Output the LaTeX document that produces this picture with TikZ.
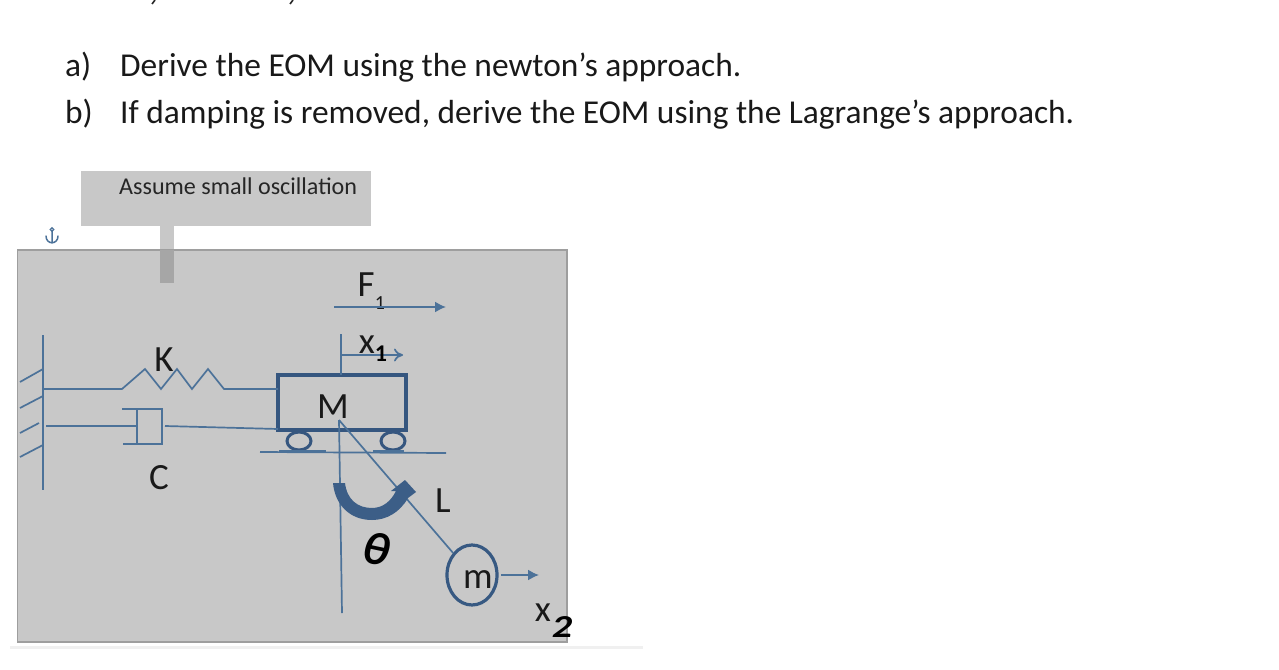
\documentclass[tikz,border=0pt]{standalone}
\usepackage{fontspec}
\setmainfont{Carlito}
\usepackage{tikz}
\usetikzlibrary{shapes,arrows.meta}
\usetikzlibrary{positioning}
\definecolor{linkblue}{HTML}{4C7299}
\definecolor{massblue}{HTML}{35567F}
\definecolor{panelgrey}{HTML}{C8C8C8}
\definecolor{edgegrey}{HTML}{9E9E9E}
\definecolor{stemgrey}{HTML}{A6A6A6}
\tikzstyle{link} = [draw=linkblue, line width=1.7pt]
\tikzstyle{force} = [link, -{Latex[length=11pt,width=11pt]}]
\tikzstyle{openarrow} = [link, -{To[length=9pt,width=13pt]}]
\tikzstyle{question} = [anchor=base west, font=\fontsize{33.4}{33.4}\selectfont, inner sep=0pt, text=black!90]
\tikzstyle{symbol} = [font=\fontsize{37}{37}\selectfont, inner sep=0pt, text=black!90]
\tikzstyle{wheel} = [ellipse, draw=massblue, line width=3pt, minimum width=24pt, minimum height=18pt, inner sep=0pt]
\tikzstyle{pad} = [draw=linkblue, line width=2.6pt]

\begin{document}
\begin{tikzpicture}[x=1pt,y=-1pt]
\useasboundingbox (0,0) rectangle (1279,669);

% cut off line above
\draw [black!85, line width=1.6pt] (155,0) -- (152,4);
\draw [black!85, line width=1.6pt] (293,0) -- (290,4);

\node (parta) [question] at (65,76) {a)};
\node (textA) [question] at (120,76) {Derive the EOM using the newton’s approach.};
\node (partb) [question] at (65,123) {b)};
\node (textB) [question] at (120,123) {If damping is removed, derive the EOM using the Lagrange’s approach.};

% panels
\fill [black!6] (10,646) rectangle (643,649);
\fill [panelgrey] (81,171) rectangle (371,226);
\fill [panelgrey] (160,226) rectangle (174,250);
\draw [fill=panelgrey, draw=edgegrey, line width=1.8pt] (17.5,250) rectangle (567,642);
\fill [stemgrey] (160,250) rectangle (174,283);
\node (note) [anchor=base west, font=\fontsize{24.1}{24.1}\selectfont, inner sep=0pt, text=black!85] at (119,194) {Assume small oscillation};

% anchor mark
\draw [linkblue, line width=1.5pt, line cap=round] (52,231) -- (52,243) (46,236) .. controls (46,245) and (58,245) .. (58,236);
\draw [linkblue, line width=1.2pt] (52,229.5) circle (1.7pt);

% wall
\coordinate (walltop) at (43,335);
\coordinate (wallend) at (43,490);
\draw [link] (walltop) -- (wallend);
\draw [link] (20,382) -- (43,369);
\draw [link] (20,408) -- (43,396);
\draw [link] (20,433) -- (39,423);
\draw [link] (20,457) -- (43,445);

% cart
\node (mass) [rectangle, draw=massblue, line width=3.4pt, minimum width=128pt, minimum height=55pt, inner sep=0pt] at (342,402.5) {};
\node (labelM) [symbol] at (333,407) {M};
\node (wheel1) [wheel] at (299,441) {};
\node (wheel2) [wheel] at (393,441) {};
\coordinate (floorL) at (260,452);
\coordinate (floorR) at (446,453);
\draw [link] (floorL) -- (floorR);
\draw [pad] (279,451) -- (326,451);
\draw [pad] (373,451) -- (404,451);

% spring
\coordinate (springA) at (43,389);
\coordinate (springB) at (278,389);
\draw [link] (springA) -- (122,389) -- (145,369) -- (161,389) -- (177,369) -- (192,389) -- (208,369) -- (224,389) -- (springB);
\node (labelK) [symbol] at (164,360) {K};

% damper
\coordinate (rodA) at (46,426);
\coordinate (piston) at (137,426);
\coordinate (rodB) at (165,426);
\coordinate (rodC) at (278,429);
\draw [link] (rodA) -- (piston);
\draw [link] (137,409) -- (137,444);
\draw [link] (122,409) -- (162,409) -- (162,444) -- (123,444);
\draw [link] (rodB) -- (rodC);
\node (labelC) [symbol] at (159,478) {C};

% force and displacement
\node (labelF) [symbol] at (366,285) {F};
\node (labelF1) [inner sep=0pt, font=\fontsize{20}{20}\selectfont, text=black!90] at (380,303) {1};
\coordinate (forceA) at (334,307);
\coordinate (forceB) at (446,307);
\draw [force] (forceA) -- (forceB);
\coordinate (tickA) at (341,334);
\coordinate (tickB) at (341,355);
\coordinate (dispB) at (403,355);
\draw [link] (tickA) -- (341,375);
\draw [openarrow] (tickB) -- (dispB);
\node (labelX1) [symbol] at (367,345) {x};
\node (labelX1b) [inner sep=0pt, font=\bfseries\fontsize{24}{24}\selectfont, text=black] at (381,354) {1};

% pendulum
\node (bob) [ellipse, draw=massblue!90!linkblue, line width=3.2pt, minimum width=50pt, minimum height=60pt, inner sep=0pt] at (472,575) {};
\coordinate (pivot) at (339,420);
\coordinate (plumb) at (342,613);
\draw [link] (pivot) -- (plumb);
\draw [link] (pivot) -- (bob);
\node (labelm) [symbol] at (478,580) {m};
\node (labelL) [symbol] at (443,501) {L};
\coordinate (bobout) at (501,575);
\coordinate (bobtip) at (539,575);
\draw [force] (bobout) -- (bobtip);
\node (labelX2) [symbol] at (543,613) {x};
\node (labelX2b) [inner sep=0pt, xscale=1.25, font=\bfseries\itshape\fontsize{32}{32}\selectfont, text=black] at (562,627) {2};

% angle arrow
\fill [massblue!70!linkblue] (333,483) -- (345,483) .. controls (347,500) and (358,508) .. (372,508)
  .. controls (383,508) and (391,501) .. (396,491) -- (391,491) -- (405,480) -- (416,492) -- (408,498)
  .. controls (400,512) and (387,520) .. (372,520) .. controls (350,520) and (335,505) .. (333,483) -- cycle;
\node (labeltheta) [inner sep=0pt, rotate=-12, font=\bfseries\itshape\fontsize{46}{46}\selectfont, text=black] at (377,549) {θ};
\end{tikzpicture}
\end{document}
